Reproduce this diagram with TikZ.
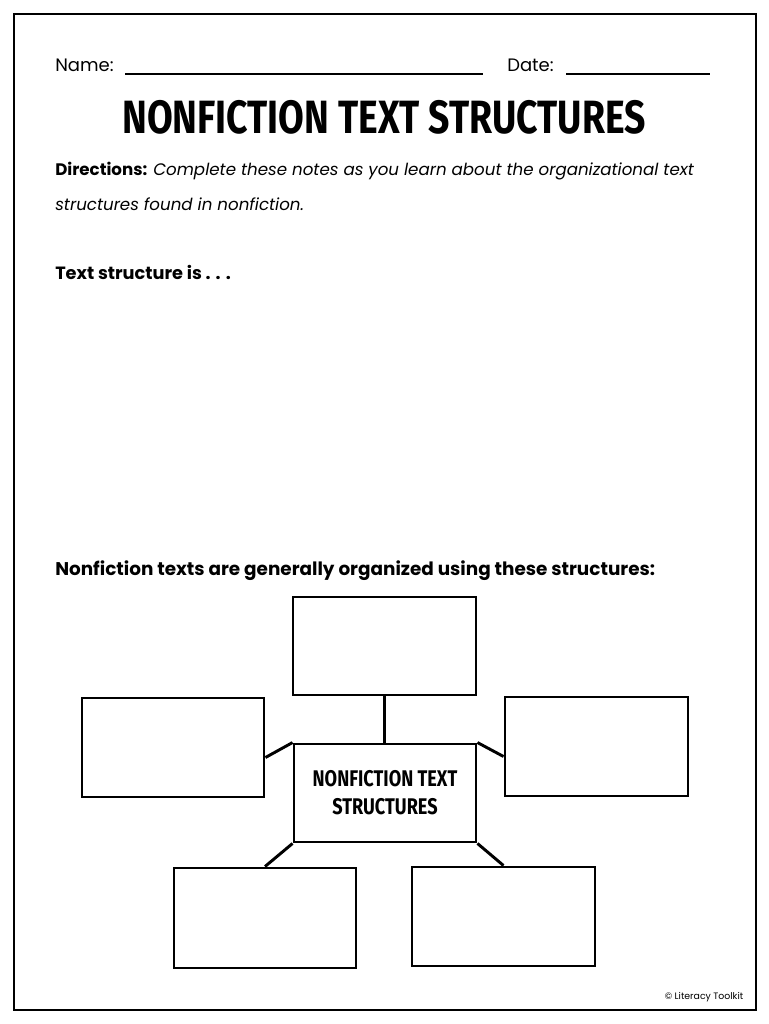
\documentclass[tikz,border=0pt]{standalone}
\usepackage{fontspec}
\setmainfont{Poppins}
\newfontfamily\titlefont{Fira Sans}
\begin{document}
\begin{tikzpicture}[x=0.75pt,y=-0.75pt,
  box/.style={draw,line width=2.2pt},
  conn/.style={line width=2.2pt},
  body/.style={anchor=west,inner sep=0pt,font=\fontsize{13}{15}\selectfont}]
\fill[white] (0,0) rectangle (768,1024);
\draw[line width=2.2pt] (14,14) rectangle (756,1010);
\node[body,font=\fontsize{13.5}{15}\selectfont] (name) at (55,65) {Name:};
\draw[line width=1pt] (125,74) -- (483,74);
\node[body,font=\fontsize{13.5}{15}\selectfont] (date) at (507,65) {Date:};
\draw[line width=1pt] (566,74) -- (710,74);
\node[inner sep=0pt] (title) at (384,117) {\scalebox{0.8}[1]{\titlefont\fontsize{35}{38}\selectfont\bfseries NONFICTION TEXT STRUCTURES}};
\node[body,font=\fontsize{12.5}{14}\selectfont] (dir1) at (55,171) {\textbf{Directions:} \textit{Complete these notes as you learn about the organizational text}};
\node[body,font=\fontsize{12.5}{14}\selectfont] (dir2) at (55,204) {\textit{structures found in nonfiction.}};
\node[body,font=\fontsize{13.3}{14}\selectfont\bfseries] (ts) at (55,272) {Text structure is . . .};
\node[body,font=\fontsize{13.8}{15}\selectfont\bfseries] (nf) at (55,571) {Nonfiction texts are generally organized using these structures:};
\node[box,minimum width=183*0.75pt,minimum height=98*0.75pt] (top) at (384.5,646) {};
\node[box,minimum width=182*0.75pt,minimum height=99*0.75pt] (left) at (173,747.5) {};
\node[box,minimum width=183*0.75pt,minimum height=99*0.75pt] (right) at (596.5,746.5) {};
\node[box,minimum width=182*0.75pt,minimum height=98*0.75pt,align=center,font=\titlefont\bfseries\fontsize{17}{21}\selectfont] (center) at (385,793) {\scalebox{0.8}[1]{NONFICTION TEXT}\\\scalebox{0.8}[1]{STRUCTURES}};
\node[box,minimum width=182*0.75pt,minimum height=100*0.75pt] (bl) at (265,918) {};
\node[box,minimum width=183*0.75pt,minimum height=99*0.75pt] (br) at (503.5,916.5) {};
\draw[conn] (top.south) -- (top.south |- center.north);
\draw[conn] (left.east) ++(0,-10*0.75pt) coordinate (lc) -- (center.north west);
\draw[conn] (right.west) ++(0,-10*0.75pt) coordinate (rc) -- (center.north east);
\draw[conn] (center.south west) -- (bl.north);
\draw[conn] (center.south east) -- (br.north);
\node[inner sep=0pt,font=\fontsize{7}{8}\selectfont] (copy) at (704,997) {\textcopyright\ Literacy Toolkit};
\end{tikzpicture}
\end{document}
